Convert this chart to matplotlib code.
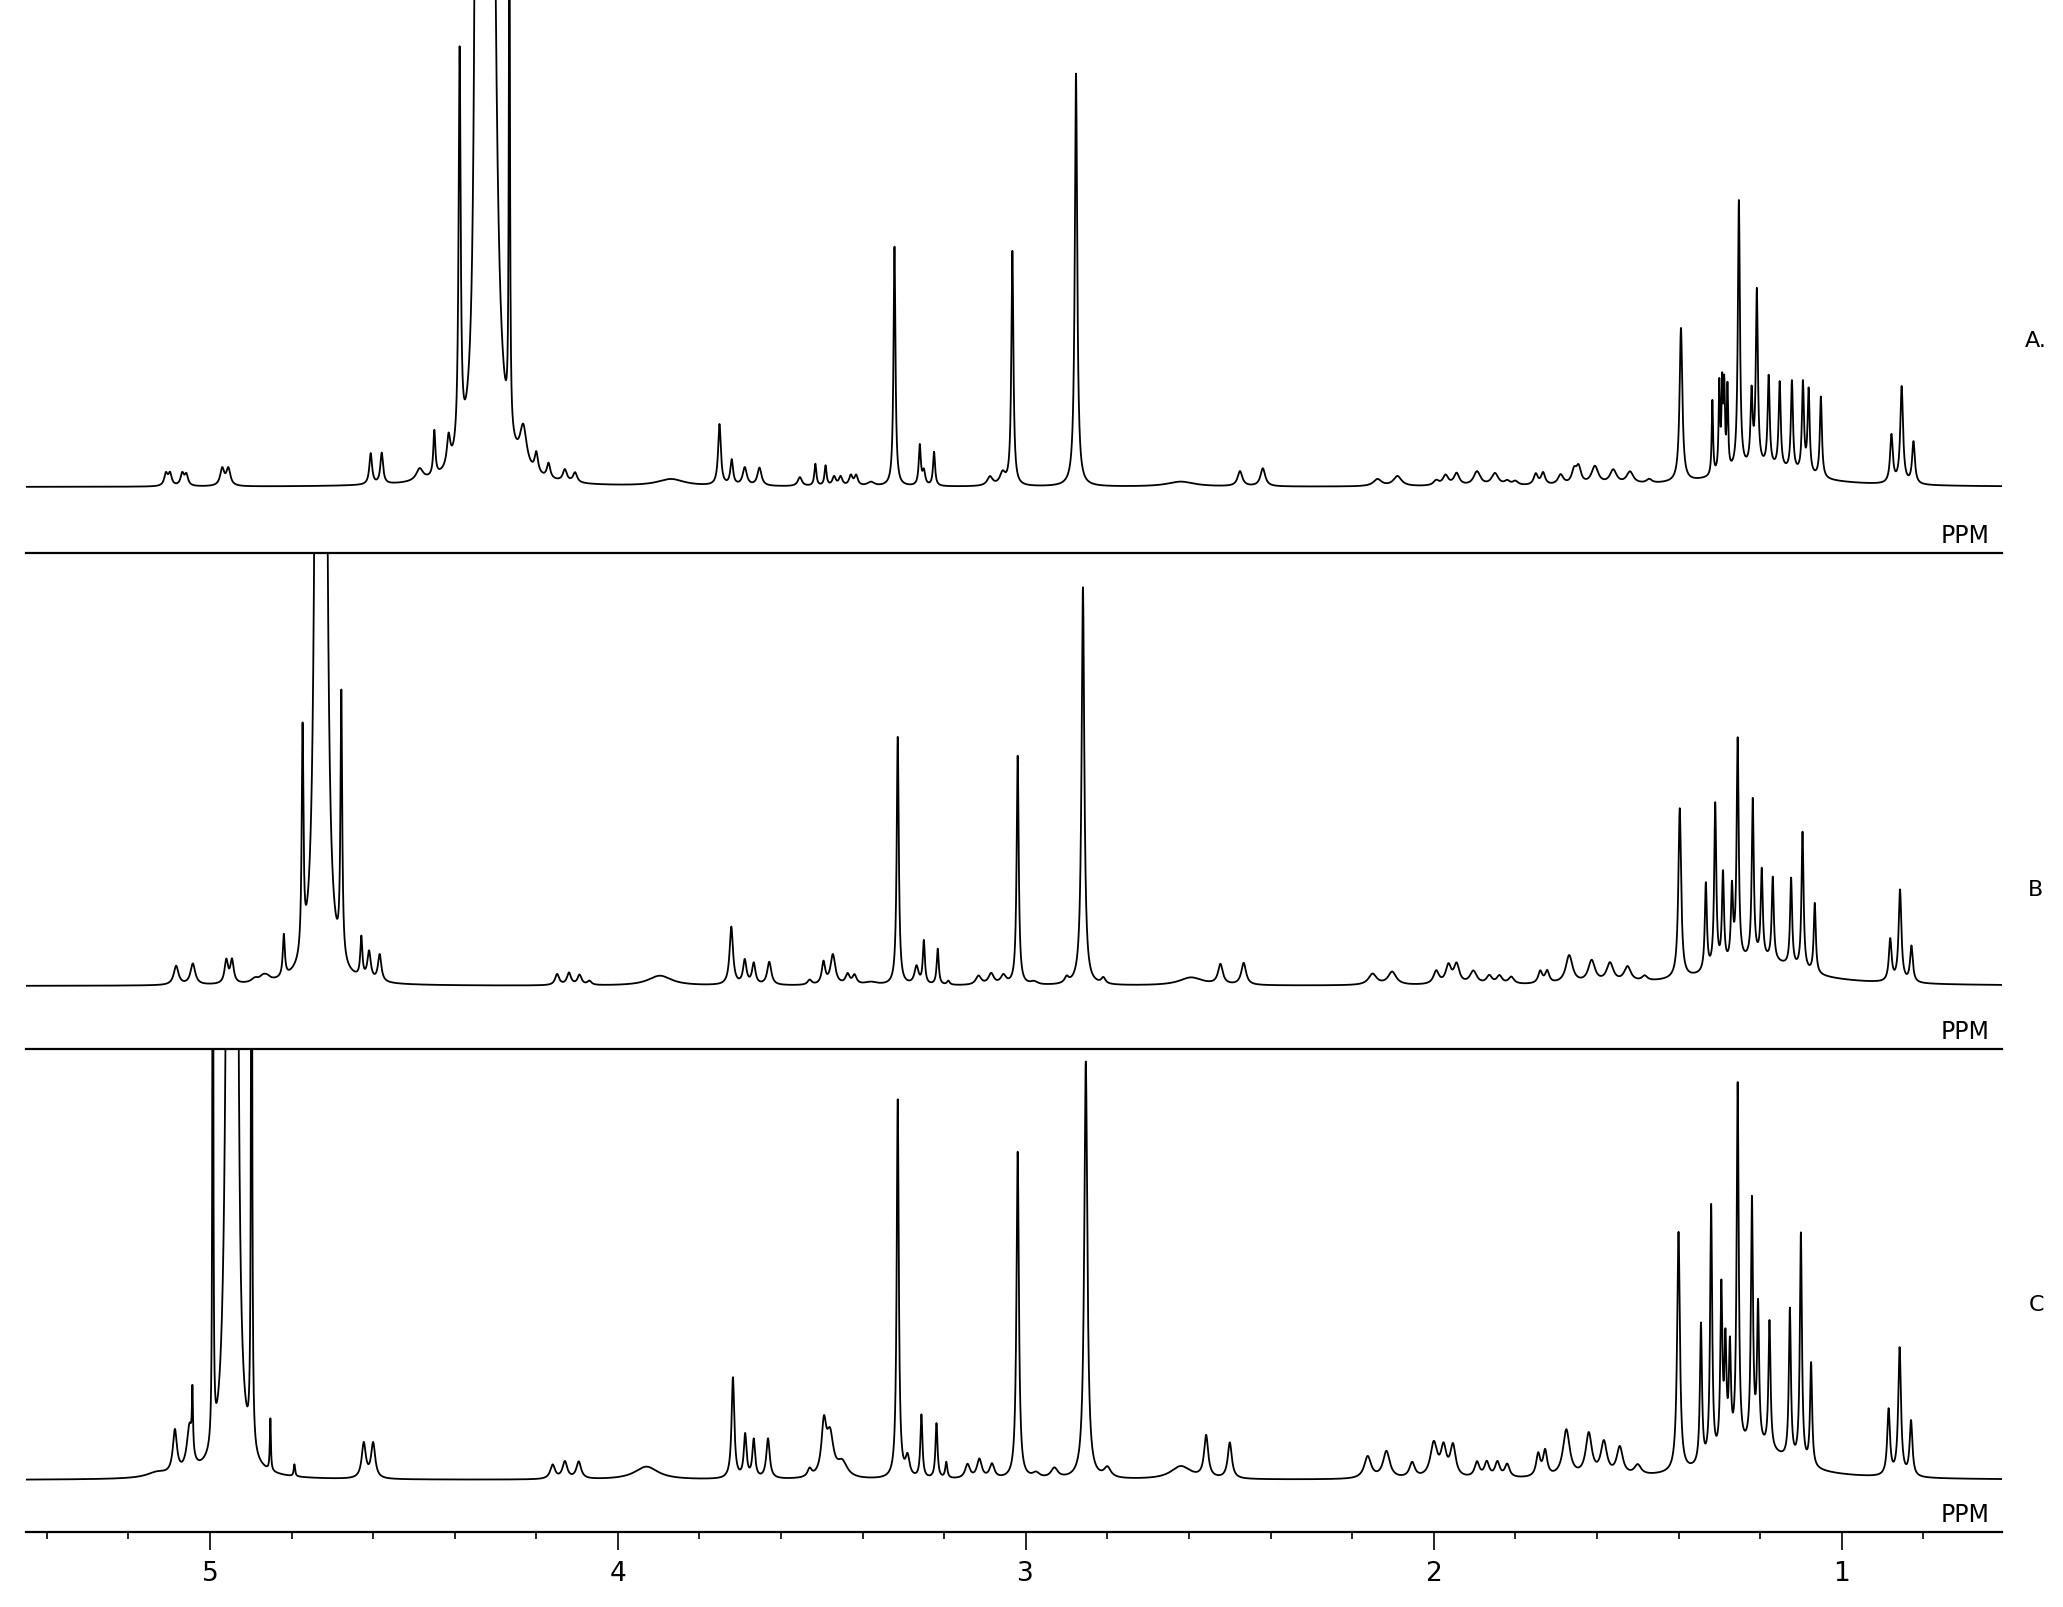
import numpy as np
import matplotlib
matplotlib.use("Agg")
import matplotlib.pyplot as plt
from matplotlib.ticker import MultipleLocator, FixedFormatter, FixedLocator

# peak lists: position (ppm), height (px above baseline), half width (ppm)
a_ppm = [5.108, 5.098, 5.068, 5.058, 4.970, 4.955, 4.606, 4.579, 4.486, 4.450, 4.415, 4.388,
         4.345, 4.328, 4.310, 4.266, 4.232, 4.200, 4.170, 4.130, 4.105, 3.870,
         3.751, 3.721, 3.689, 3.653, 3.554, 3.516, 3.491, 3.470, 3.454, 3.429, 3.416, 3.380,
         3.322, 3.260, 3.250, 3.225, 3.088, 3.057, 3.033, 2.877, 2.620, 2.475, 2.419,
         2.138, 2.089, 1.994, 1.971, 1.944, 1.894, 1.850, 1.820, 1.800, 1.750, 1.732, 1.689,
         1.656, 1.645, 1.605, 1.560, 1.519, 1.472, 1.394,
         1.317, 1.300, 1.293, 1.288, 1.280, 1.252, 1.221, 1.208, 1.179, 1.152, 1.122, 1.095,
         1.081, 1.051, 1.190, 0.878, 0.853, 0.824]
a_height = [12, 12, 12, 11, 17, 17, 31, 31, 12, 45, 30, 400,
            1500, 1200, 900, 600, 40, 20, 15, 12, 10, 7,
            61, 25, 18, 18, 9, 22, 20, 9, 9, 10, 10, 4,
            240, 40, 14, 34, 9, 12, 235, 413, 5, 15, 18,
            7, 10, 5, 10, 12, 14, 12, 4, 4, 11, 12, 10,
            13, 16, 18, 14, 12, 4, 154,
            75, 88, 82, 80, 82, 270, 72, 175, 90, 86, 90, 90,
            84, 81, 18, 48, 97, 42]
a_width = [0.005, 0.005, 0.005, 0.005, 0.006, 0.006, 0.004, 0.004, 0.010, 0.003, 0.005, 0.003,
           0.004, 0.006, 0.010, 0.0015, 0.010, 0.005, 0.005, 0.006, 0.006, 0.040,
           0.004, 0.004, 0.006, 0.006, 0.006, 0.003, 0.003, 0.005, 0.005, 0.005, 0.005, 0.010,
           0.0028, 0.003, 0.004, 0.003, 0.008, 0.008, 0.003, 0.0035, 0.040, 0.007, 0.007,
           0.012, 0.012, 0.008, 0.008, 0.008, 0.010, 0.010, 0.008, 0.008, 0.006, 0.006, 0.008,
           0.007, 0.007, 0.010, 0.010, 0.010, 0.008, 0.004,
           0.002, 0.002, 0.002, 0.002, 0.002, 0.003, 0.003, 0.003, 0.003, 0.003, 0.003, 0.003,
           0.003, 0.003, 0.120, 0.004, 0.004, 0.004]

b_ppm = [5.083, 5.042, 4.960, 4.946, 4.890, 4.870, 4.860, 4.819, 4.773, 4.737, 4.719, 4.678,
         4.629, 4.610, 4.584, 4.149, 4.120, 4.094, 4.070, 3.897,
         3.722, 3.689, 3.667, 3.629, 3.530, 3.496, 3.473, 3.437, 3.420, 3.380,
         3.314, 3.268, 3.250, 3.216, 3.190, 3.116, 3.085, 3.055, 3.020, 2.980,
         2.900, 2.860, 2.810, 2.595, 2.523, 2.466,
         2.150, 2.102, 1.994, 1.964, 1.944, 1.903, 1.864, 1.839, 1.810, 1.739, 1.722, 1.668,
         1.613, 1.568, 1.525, 1.483, 1.397,
         1.333, 1.310, 1.291, 1.269, 1.255, 1.218, 1.196, 1.169, 1.124, 1.096, 1.066, 1.200,
         0.881, 0.857, 0.829]
b_height = [19, 21, 23, 23, 4, 5, 4, 42, 225, 1000, 1000, 265,
            40, 28, 27, 11, 12, 10, 4, 10,
            58, 24, 21, 23, 5, 22, 30, 10, 9, 3,
            249, 18, 43, 36, 4, 9, 11, 9, 229, 3,
            6, 398, 6, 8, 20, 22,
            11, 13, 13, 18, 19, 13, 8, 8, 7, 12, 12, 28,
            22, 19, 15, 5, 170,
            88, 165, 92, 73, 222, 160, 88, 83, 88, 138, 70, 25,
            42, 92, 36]
b_width = [0.007, 0.007, 0.005, 0.005, 0.010, 0.010, 0.010, 0.003, 0.0025, 0.006, 0.006, 0.0025,
           0.003, 0.005, 0.005, 0.006, 0.006, 0.006, 0.006, 0.035,
           0.005, 0.005, 0.005, 0.006, 0.006, 0.005, 0.007, 0.006, 0.006, 0.020,
           0.003, 0.006, 0.003, 0.003, 0.004, 0.008, 0.008, 0.008, 0.003, 0.010,
           0.006, 0.004, 0.006, 0.035, 0.007, 0.007,
           0.012, 0.012, 0.008, 0.008, 0.008, 0.010, 0.008, 0.008, 0.008, 0.006, 0.006, 0.010,
           0.010, 0.010, 0.010, 0.008, 0.004,
           0.003, 0.003, 0.003, 0.003, 0.003, 0.003, 0.003, 0.003, 0.003, 0.003, 0.003, 0.120,
           0.004, 0.004, 0.004]

c_ppm = [5.130, 5.086, 5.050, 5.043, 4.993, 4.952, 4.937, 4.898, 4.852, 4.793, 4.623, 4.600,
         4.160, 4.130, 4.096, 3.930,
         3.718, 3.688, 3.667, 3.632, 3.530, 3.495, 3.480, 3.450,
         3.314, 3.290, 3.256, 3.219, 3.195, 3.143, 3.114, 3.083, 3.020, 2.975, 2.930,
         2.853, 2.800, 2.620, 2.558, 2.500,
         2.162, 2.116, 2.053, 2.000, 1.976, 1.953, 1.894, 1.870, 1.844, 1.820, 1.744, 1.727,
         1.675, 1.620, 1.583, 1.544, 1.500, 1.400,
         1.345, 1.320, 1.295, 1.285, 1.274, 1.255, 1.220, 1.205, 1.177, 1.127, 1.100, 1.075,
         1.210, 0.885, 0.858, 0.830]
c_height = [5, 43, 45, 60, 800, 1500, 1500, 800, 52, 12, 35, 35,
            14, 17, 17, 13,
            101, 43, 38, 40, 8, 50, 40, 15,
            380, 20, 63, 55, 16, 14, 19, 14, 327, 5, 10,
            418, 10, 13, 42, 36,
            22, 27, 15, 34, 28, 31, 15, 15, 15, 13, 22, 25,
            47, 42, 33, 28, 10, 240,
            140, 255, 165, 105, 100, 365, 245, 138, 128, 150, 230, 103,
            30, 66, 128, 55]
c_width = [0.030, 0.006, 0.008, 0.0015, 0.0012, 0.006, 0.004, 0.0015, 0.0015, 0.002, 0.006, 0.006,
           0.007, 0.007, 0.007, 0.035,
           0.004, 0.004, 0.004, 0.005, 0.006, 0.007, 0.010, 0.015,
           0.003, 0.006, 0.003, 0.003, 0.003, 0.007, 0.007, 0.007, 0.0035, 0.010, 0.010,
           0.0045, 0.010, 0.030, 0.006, 0.006,
           0.010, 0.010, 0.008, 0.010, 0.008, 0.008, 0.007, 0.007, 0.007, 0.007, 0.006, 0.006,
           0.010, 0.009, 0.009, 0.009, 0.010, 0.004,
           0.003, 0.003, 0.003, 0.003, 0.003, 0.003, 0.003, 0.003, 0.003, 0.003, 0.003, 0.003,
           0.100, 0.004, 0.004, 0.004]

panel_labels = ["A.", "B", "C"]
tick_values = [5, 4, 3, 2, 1]
tick_labels = ["5", "4", "3", "2", "1"]

x = np.linspace(5.451, 0.607, 12000)


def spectrum(pos, h, w):
    pos = np.asarray(pos)[:, None]
    h = np.asarray(h, dtype=float)[:, None]
    w = np.asarray(w)[:, None]
    return (h * w**2 / ((x[None, :] - pos) ** 2 + w**2)).sum(axis=0)


W, H = 2063, 1607
fig = plt.figure(figsize=(W / 100, H / 100), dpi=100)

left = 26 / W
width = (2002 - 26) / W
# (top px, separator px, baseline px)
panels = [(0, 553, 487), (553, 1049, 986), (1050, 1532, 1480)]
label_pos = [(2036, 341), (2036, 890), (2036, 1305)]
series = [(a_ppm, a_height, a_width), (b_ppm, b_height, b_width), (c_ppm, c_height, c_width)]

for i, ((top, sep, base), (p, h, w)) in enumerate(zip(panels, series)):
    ax = fig.add_axes([left, 1 - sep / H, width, (sep - top) / H])
    ax.plot(x, spectrum(p, h, w), color="black", lw=1.3)
    ax.set_xlim(5.451, 0.607)
    ax.set_ylim(-(sep - base), base - top)
    ax.patch.set_visible(False)
    for s in ["top", "left", "right"]:
        ax.spines[s].set_visible(False)
    ax.spines["bottom"].set_linewidth(1.6)
    ax.set_yticks([])
    if i < 2:
        ax.set_xticks([])
    else:
        ax.xaxis.set_major_locator(FixedLocator(tick_values))
        ax.xaxis.set_major_formatter(FixedFormatter(tick_labels))
        ax.xaxis.set_minor_locator(MultipleLocator(0.2))
        ax.tick_params(axis="x", which="major", length=13, width=1.2, pad=8, labelsize=19)
        ax.tick_params(axis="x", which="minor", length=5, width=1.2)
    fig.text(1965 / W, 1 - (sep - 5) / H, "PPM", ha="center", va="bottom", fontsize=17)
    lx, ly = label_pos[i]
    fig.text(lx / W, 1 - ly / H, panel_labels[i], ha="center", va="center", fontsize=16)

fig.savefig("out.png", dpi=100)
